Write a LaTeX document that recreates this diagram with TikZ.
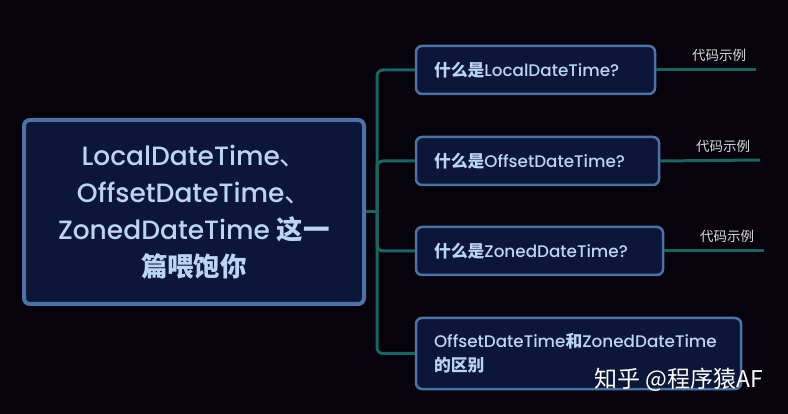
\documentclass[tikz,border=0pt]{standalone}
\usepackage{fontspec}
\setmainfont{Poppins Medium}
\newfontfamily\cjk{Noto Sans CJK SC}
\definecolor{bg}{HTML}{07030D}
\definecolor{boxfill}{HTML}{0C1638}
\definecolor{boxline}{HTML}{4E72A6}
\definecolor{linkc}{HTML}{1B6462}
\definecolor{txt}{HTML}{BCD4F4}
\definecolor{lbl}{HTML}{D8D8D8}
\begin{document}
\begin{tikzpicture}[x=1pt,y=-1pt,
  mainbox/.style={draw=boxline, line width=4pt, fill=boxfill, rounded corners=6pt, minimum width=340pt, minimum height=184pt, text=txt, align=center, inner sep=0pt},
  childbox/.style={draw=boxline, line width=2.5pt, fill=boxfill, rounded corners=6pt, minimum height=48pt, text=txt, align=left, inner xsep=18pt, font=\fontsize{16.8}{24}\selectfont},
  link/.style={draw=linkc, line width=3pt},
  codelbl/.style={text=lbl, font=\cjk\fontsize{13.5}{15}\selectfont, inner sep=0pt}]
\fill[bg] (0,0) rectangle (788,414);
\useasboundingbox (0,0) rectangle (788,414);

\node[mainbox, font=\fontsize{26.5}{37}\selectfont] (main) at (194,212)
  {LocalDateTime{\cjk、}\\OffsetDateTime{\cjk、}\\ZonedDateTime {\cjk\bfseries 这一}\\{\cjk\bfseries 篇喂饱你}};

\node[childbox, minimum width=239pt, text width=203pt] (c1) at (535.5,70) {{\cjk\bfseries 什么是}LocalDateTime?};
\node[childbox, minimum width=243pt, text width=207pt] (c2) at (537.5,161) {{\cjk\bfseries 什么是}OffsetDateTime?};
\node[childbox, minimum width=247pt, text width=211pt] (c3) at (539.5,251) {{\cjk\bfseries 什么是}ZonedDateTime?};
\node[childbox, minimum width=325pt, minimum height=71pt, text width=289pt] (c4) at (578.5,353.5) {OffsetDateTime{\cjk\bfseries 和}ZonedDateTime\\{\cjk\bfseries 的区别}};

\coordinate (t) at (377,212);
\coordinate (e1) at (756,70);
\coordinate (e2) at (760,160);
\coordinate (e3) at (764,251);

\draw[link] (main.east) -- (t);
\draw[link, rounded corners=6pt] (t) |- (c1.west);
\draw[link, rounded corners=6pt] (t) |- (c2.west);
\draw[link, rounded corners=6pt] (t) |- (c3.west);
\draw[link, rounded corners=6pt] (t) |- (c4.west);
\draw[link] (c1.east) -- (e1);
\draw[link] (c2.east) -- (e2);
\draw[link] (c3.east) -- (e3);

\node[codelbl] (l1) at (719,55) {代码示例};
\node[codelbl] (l2) at (723,146) {代码示例};
\node[codelbl] (l3) at (727,236) {代码示例};

\node[text=white, font=\cjk\fontsize{23}{26}\selectfont, inner sep=0pt] (wm) at (679,380) {知乎 @程序猿AF};
\end{tikzpicture}
\end{document}
